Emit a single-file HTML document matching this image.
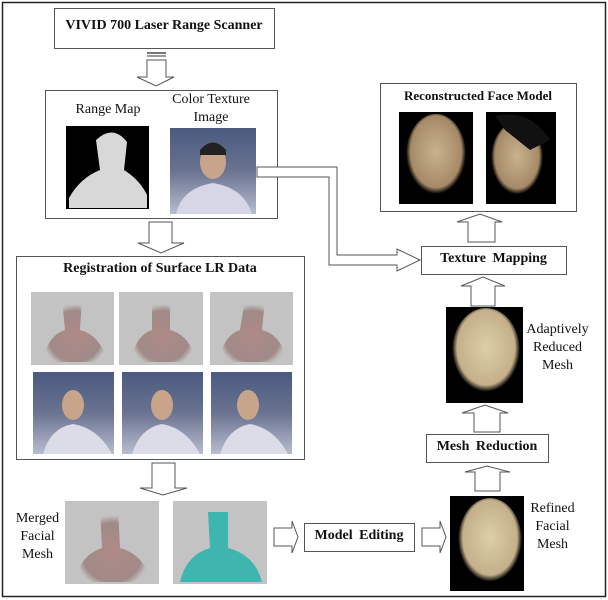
<!DOCTYPE html>
<html><head><meta charset="utf-8"><style>
body{margin:0;background:#fff;}
.w{position:relative;width:608px;height:600px;overflow:hidden;font-family:"Liberation Serif",serif;}
.t{position:absolute;text-align:center;color:#111;white-space:nowrap;}
</style></head><body><div class="w">
<svg width="608" height="600" style="position:absolute;left:0;top:0">
<defs>
<linearGradient id="ph" x1="0" y1="0" x2="0" y2="1"><stop offset="0" stop-color="#4a5a80"/><stop offset="0.5" stop-color="#6a7390"/><stop offset="1" stop-color="#b8bccf"/></linearGradient>
<radialGradient id="face" cx="0.5" cy="0.45" r="0.5"><stop offset="0" stop-color="#c9b28e"/><stop offset="0.85" stop-color="#a68a68"/><stop offset="1" stop-color="#000"/></radialGradient>
<radialGradient id="mesh" cx="0.5" cy="0.45" r="0.5"><stop offset="0" stop-color="#dccfa8"/><stop offset="0.85" stop-color="#c4b08a"/><stop offset="1" stop-color="#000"/></radialGradient>
<radialGradient id="sil" cx="0.5" cy="0.6" r="0.5"><stop offset="0" stop-color="#b08a86"/><stop offset="0.8" stop-color="#a08a88"/><stop offset="1" stop-color="#c3c3c3"/></radialGradient>
</defs>
<g fill="#fff" stroke="#555" stroke-width="1">
<rect x="2.5" y="2.5" width="603" height="594" stroke="#222" stroke-width="1.5"/>
<rect x="54.5" y="8.5" width="220" height="40"/>
<rect x="45.5" y="90.5" width="232" height="128"/>
<rect x="380.5" y="83.5" width="196" height="128"/>
<rect x="421.5" y="246.5" width="145" height="28"/>
<rect x="16.5" y="256.5" width="288" height="203"/>
<rect x="426.5" y="434.5" width="122" height="28"/>
<rect x="304.5" y="523.5" width="110" height="28"/>
<polygon points="147,60 166,60 166,77 174,77 156,86 137,77 147,77"/>
<polygon points="149,222 172,222 172,243 184,243 161,253 138,243 149,243"/>
<polygon points="152,463 175,463 175,488 187,488 163,495 140,488 152,488"/>
<polygon points="468,242 495,242 495,222 502,222 480,214 457,222 468,222"/>
<polygon points="471,306 495,306 495,286 505,286 483,277 461,286 471,286"/>
<polygon points="474,432 500,432 500,413 508,413 485,405 462,413 474,413"/>
<polygon points="475,491 500,491 500,472 510,472 487,466 465,472 475,472"/>
<polygon points="274,528 292,528 292,521 298,537 292,553 292,546 274,546"/>
<polygon points="422,528 440,528 440,521 446,537 440,553 440,546 422,546"/>
<polygon points="257,167 337,167 337,255 397,255 397,249 420,260 397,271 397,265 329,265 329,177 257,177"/>
</g>
<rect x="147" y="52" width="19" height="2" fill="#777"/><rect x="147" y="55" width="19" height="2" fill="#999"/>
<rect x="66" y="126" width="83" height="83" fill="#000"/>
<path d="M96,140 Q113,124 127,142 L124,170 Q140,180 147,195 L147,208 L69,208 L69,198 Q80,178 100,170 Z" fill="#d8d8d8"/>
<rect x="170" y="128" width="86" height="86" fill="url(#ph)"/>
<ellipse cx="213" cy="162" rx="13" ry="17" fill="#c8a48a"/><path d="M200,150 Q213,135 226,150 L226,155 L200,155Z" fill="#222"/>
<path d="M176,214 Q182,188 213,183 Q244,188 252,214Z" fill="#d6d6e6"/>
<rect x="399" y="112" width="74" height="92" fill="#000"/><ellipse cx="436" cy="156" rx="30" ry="42" fill="url(#face)"/>
<rect x="486" y="112" width="70" height="92" fill="#000"/><ellipse cx="517" cy="160" rx="26" ry="38" fill="url(#face)"/><path d="M495,116 Q530,108 550,140 L530,150 L505,130Z" fill="#111"/>
<rect x="446" y="307" width="77" height="96" fill="#000"/><ellipse cx="486" cy="352" rx="34" ry="44" fill="url(#mesh)"/>
<rect x="450" y="496" width="74" height="95" fill="#000"/><ellipse cx="490" cy="542" rx="32" ry="44" fill="url(#mesh)"/>
<g>
<rect x="31" y="292" width="83" height="73" fill="#c3c3c3"/><rect x="119" y="292" width="84" height="73" fill="#c3c3c3"/><rect x="210" y="292" width="83" height="73" fill="#c3c3c3"/>
<path d="M42,362 Q48,335 65,330 L62,298 L82,298 L80,330 Q100,335 108,362Z" fill="url(#sil)"/>
<path d="M130,362 Q136,335 152,330 L152,298 L170,298 L170,330 Q190,335 196,362Z" fill="url(#sil)"/>
<path d="M218,362 Q224,335 240,330 L245,298 L265,300 L262,330 Q282,335 287,362Z" fill="url(#sil)"/>
<rect x="33" y="372" width="81" height="82" fill="url(#ph)"/><rect x="122" y="372" width="81" height="82" fill="url(#ph)"/><rect x="211" y="372" width="81" height="82" fill="url(#ph)"/>
<ellipse cx="73" cy="405" rx="11" ry="15" fill="#c8a48a"/><path d="M43,454 Q50,428 73,424 Q98,428 112,454Z" fill="#dcdce8"/>
<ellipse cx="162" cy="405" rx="11" ry="15" fill="#c8a48a"/><path d="M132,454 Q140,428 162,424 Q186,428 200,454Z" fill="#dcdce8"/>
<ellipse cx="248" cy="405" rx="11" ry="15" fill="#c8a48a"/><path d="M220,454 Q228,428 250,424 Q274,428 288,454Z" fill="#dcdce8"/>
<rect x="65" y="501" width="94" height="83" fill="#c3c3c3"/><path d="M75,582 Q80,555 102,548 L100,508 L118,508 L120,548 Q145,555 150,582Z" fill="url(#sil)"/>
<rect x="173" y="501" width="94" height="83" fill="#c3c3c3"/><path d="M180,582 Q186,555 210,548 L208,512 L228,512 L228,548 Q255,555 262,582Z" fill="#3fb5b0"/>
</g>
</svg>
<div class="t" style="left:54px;top:18px;width:220px;font-size:14px;font-weight:bold">VIVID 700 Laser Range Scanner</div>
<div class="t" style="left:58px;top:102px;width:100px;font-size:14px">Range Map</div>
<div class="t" style="left:161px;top:91px;width:100px;font-size:14px;line-height:18px">Color Texture<br>Image</div>
<div class="t" style="left:380px;top:88px;width:196px;font-size:13px;font-weight:bold">Reconstructed Face Model</div>
<div class="t" style="left:421px;top:251px;width:145px;font-size:14px;font-weight:bold;word-spacing:3px">Texture Mapping</div>
<div class="t" style="left:16px;top:261px;width:288px;font-size:14px;font-weight:bold">Registration of Surface LR Data</div>
<div class="t" style="left:520px;top:321px;width:75px;font-size:14px;line-height:18px">Adaptively<br>Reduced<br>Mesh</div>
<div class="t" style="left:426px;top:439px;width:122px;font-size:14px;font-weight:bold;word-spacing:3px">Mesh Reduction</div>
<div class="t" style="left:0px;top:510px;width:75px;font-size:14px;line-height:18px">Merged<br>Facial<br>Mesh</div>
<div class="t" style="left:304px;top:528px;width:110px;font-size:14px;font-weight:bold;word-spacing:3px">Model Editing</div>
<div class="t" style="left:520px;top:500px;width:65px;font-size:14px;line-height:18px">Refined<br>Facial<br>Mesh</div>
</div></body></html>
